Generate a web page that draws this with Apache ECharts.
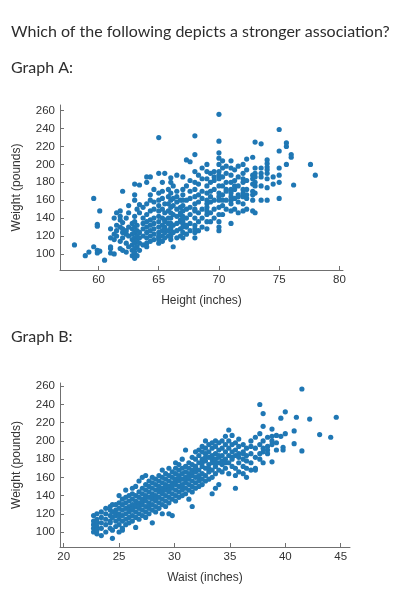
<!DOCTYPE html>
<html><head><meta charset="utf-8">
<script src="https://cdn.jsdelivr.net/npm/echarts@6/dist/echarts.min.js"></script>
<style>html,body{margin:0;padding:0;background:#fff}#c{width:407px;height:606px}</style>
</head><body><div id="c"></div>
<script>
const questionText = "Which of the following depicts a stronger association?";
const labelA = "Graph A:";
const labelB = "Graph B:";
const xTicksA = [60, 65, 70, 75, 80];
const yTicks = [100, 120, 140, 160, 180, 200, 220, 240, 260];
const xTicksB = [20, 25, 30, 35, 40, 45];

// Graph A: height (inches) -> weights (pounds) in that column
const heightColumnsA = [
 [58.0,[110]],[58.9,[98]],[59.2,[102]],[59.6,[108,162]],[59.9,[131,133,101,104]],[60.1,[148,103]],[60.5,[93]],
 [61.0,[101,106,108,118,128]],[61.3,[100,116,122,140]],[61.5,[120,126,132,146]],[61.8,[106,114,138,142,148,130]],
 [62.0,[104,124,118,170,135,128]],[62.3,[102,112,122,126,140]],[62.5,[108,120,130,146,154]],
 [62.8,[98,104,110,116,122,128,134]],[63.0,[95,100,106,112,118,124,130,136,160,166,178,142,114,102]],
 [63.2,[98,108,116,120,126,150,132]],[63.4,[104,112,118,124,146,177,155]],[63.7,[110,120,128,134,140,152]],
 [64.0,[112,118,124,130,136,144,156,186,180,108]],[64.3,[114,120,126,132,138,148,160,166,186]],
 [64.6,[116,122,128,134,140,150,158,172]],[65.0,[112,118,124,130,136,142,148,154,160,190,230,168,120,116]],
 [65.3,[114,120,126,132,140,150,162,170,180]],[65.5,[118,124,130,138,146,156,190,136,128]],
 [65.8,[120,126,134,140,148,156,164,172]],[66.0,[116,122,128,134,140,146,152,160,168,180,185,120,130]],
 [66.2,[108,124,132,144,154,162,176]],[66.5,[118,126,134,142,150,158,164,170,188]],
 [66.8,[120,128,136,144,152,160,146,138]],[67.0,[118,124,130,136,142,148,154,160,166,172,186,140,134]],
 [67.3,[122,130,140,150,160,176,205,132]],[67.6,[126,134,144,152,162,170,182,203]],
 [68.0,[118,124,132,140,148,156,164,172,180,192,211,232,128,150]],[68.3,[126,136,146,158,166,178,188]],
 [68.6,[130,140,150,162,170,184,196]],[69.0,[128,136,144,152,160,168,176,184,192,200,148,156]],
 [69.3,[136,146,158,170,180,190,164]],[69.6,[140,150,160,172,182,192,186]],
 [70.0,[126,130,136,144,152,160,168,176,184,192,200,207,213,226,256,188,164]],
 [70.3,[144,154,166,176,186,196,204,160]],[70.6,[150,160,170,180,190,198,172]],
 [71.0,[134,148,156,164,172,180,188,196,204,168,160]],[71.3,[150,162,172,182,194,176]],
 [71.6,[146,158,166,176,186,198,164]],[72.0,[148,156,164,172,180,190,200,168,184]],
 [72.3,[150,162,172,182,194,206,166]],[72.8,[148,160,170,178,188,208,166,184]],
 [73.0,[146,168,176,186,196,225,180,190]],[73.5,[160,176,186,196,223,190]],
 [74.0,[160,174,184,190,197,201,205,194]],[74.5,[178,186]],[75.0,[162,180,188,196,215,239]],
 [75.6,[224,220,200]],[76.0,[208,211]],[76.2,[177]],[77.6,[200]],[78.0,[188]]
];

// Graph B: waist (inches) -> weights (pounds) in that column
const waistColumnsB = [
 [22.7,[100,104,108,112,118]],[23.0,[98,106,114,120,110,102]],[23.4,[96,104,110,116,122]],
 [23.8,[100,108,114,120,126]],[24.2,[104,112,118,124,128,110]],[24.4,[93,102,116,122,130]],
 [24.7,[106,112,118,124,130,120]],[25.0,[100,108,114,120,126,132,140,118]],
 [25.3,[104,112,118,124,130,136,102]],[25.6,[108,114,120,126,132,138,146]],
 [25.9,[110,116,122,128,134,140,124]],[26.2,[112,118,124,130,136,142,148,126]],
 [26.5,[105,116,122,128,134,140,150,130]],[26.8,[114,120,126,132,138,144,156,128]],
 [27.1,[118,124,130,136,142,148,160,134]],[27.4,[116,122,128,134,140,146,152,162,138]],
 [27.7,[120,126,132,138,144,150,156,130]],[28.0,[110,124,130,136,142,148,154,160,140]],
 [28.3,[122,128,134,140,146,152,158,136]],[28.6,[126,132,138,144,150,156,162,148]],
 [28.9,[120,130,136,142,148,154,160,168,144]],[29.2,[128,134,140,146,152,158,164,150]],
 [29.5,[120,132,138,144,150,156,162,170,146]],[29.8,[118,136,142,148,154,160,166,152]],
 [30.1,[134,140,146,152,158,164,170,176,156]],[30.4,[138,144,150,156,162,168,174,160]],
 [30.7,[140,146,152,158,164,170,180,150]],[31.0,[142,148,154,160,166,172,190,158]],
 [31.3,[136,146,152,158,164,170,176,160]],[31.6,[128,144,150,156,162,168,174,182,166]],
 [31.9,[148,154,160,166,172,180,188,170]],[32.2,[150,156,162,168,176,184,190,160]],
 [32.5,[152,158,164,172,180,188,194,176]],[32.8,[156,162,170,178,186,192,200,182]],
 [33.1,[158,166,174,182,188,196,170]],[33.4,[142,160,168,176,184,192,198,180]],
 [33.7,[148,164,172,180,186,194,200,176]],[34.0,[152,168,176,182,190,198,184]],
 [34.3,[166,174,184,192,200,178]],[34.6,[170,180,188,196,205,176]],
 [34.9,[164,176,184,192,212,200]],[35.2,[172,182,188,196,206,180]],
 [35.5,[148,162,170,184,190,198]],[35.8,[166,176,186,194,202,182]],
 [36.2,[164,172,180,188,196,186]],[36.5,[160,170,178,184,192]],[36.9,[168,176,186,194,200]],
 [37.3,[168,182,192,204,170]],[37.7,[240,180,196,186,208]],[38.0,[230,216,176,188,200,192]],
 [38.4,[194,190,186,204]],[38.8,[177,205,213,200,196]],[39.2,[206,190,198]],[39.6,[225,205]],
 [39.8,[193,190]],[40.0,[232,208]],[40.8,[211,197]],[41.0,[226]],[41.5,[257,189]],
 [42.2,[224]],[43.1,[207]],[44.1,[204]],[44.6,[226]]
];

function toPoints(cols){const out=[];cols.forEach(c=>c[1].forEach(w=>out.push([c[0],w])));return out;}
const pointsA = toPoints(heightColumnsA);
const pointsB = toPoints(waistColumnsB);

const axisColor = '#707070';
const labelFont = {color:'#333', fontSize:11.5, fontFamily:'Liberation Sans, Arial, sans-serif'};
const nameFont = {color:'#333', fontSize:12, fontFamily:'Liberation Sans, Arial, sans-serif'};
const textFont = '16px Lato, sans-serif';

function xAxis(gi, min, max, ticks, name){
  return {type:'value', gridIndex:gi, min, max, name, nameLocation:'middle', nameGap:25, nameTextStyle:nameFont,
    axisLine:{show:true, onZero:false, lineStyle:{color:axisColor, width:1}},
    axisTick:{show:true, inside:true, length:4, customValues:ticks, lineStyle:{color:axisColor}},
    axisLabel:{show:true, margin:4, customValues:ticks, ...labelFont},
    splitLine:{show:false}};
}
function yAxis(gi, min, max, name){
  return {type:'value', gridIndex:gi, min, max, name, nameLocation:'middle', nameGap:37, nameTextStyle:nameFont,
    axisLine:{show:true, onZero:false, lineStyle:{color:axisColor, width:1}},
    axisTick:{show:true, inside:true, length:4, customValues:yTicks, lineStyle:{color:axisColor}},
    axisLabel:{show:true, margin:5, customValues:yTicks, ...labelFont},
    splitLine:{show:false}};
}

const chart = echarts.init(document.getElementById('c'), null, {renderer:'canvas'});
chart.setOption({
  animation:false,
  backgroundColor:'#fff',
  graphic:[
    {type:'text', x:11, y:32, style:{text:questionText, font:textFont, fill:'#2d2d2d', verticalAlign:'middle'}},
    {type:'text', x:11, y:68, style:{text:labelA, font:textFont, fill:'#2d2d2d', verticalAlign:'middle'}},
    {type:'text', x:11, y:337, style:{text:labelB, font:textFont, fill:'#2d2d2d', verticalAlign:'middle'}}
  ],
  grid:[
    {left:60, top:105, width:283, height:165},
    {left:60, top:383, width:290, height:164}
  ],
  xAxis:[ xAxis(0, 56.8, 80.3, xTicksA, 'Height (inches)'), xAxis(1, 19.67, 45.84, xTicksB, 'Waist (inches)') ],
  yAxis:[ yAxis(0, 82, 266.4, 'Weight (pounds)'), yAxis(1, 83.5, 263.6, 'Weight (pounds)') ],
  series:[
    {type:'scatter', xAxisIndex:0, yAxisIndex:0, data:pointsA, symbolSize:5.2, itemStyle:{color:'#1f77b4', opacity:1}},
    {type:'scatter', xAxisIndex:1, yAxisIndex:1, data:pointsB, symbolSize:5.2, itemStyle:{color:'#1f77b4', opacity:1}}
  ]
});
</script></body></html>
